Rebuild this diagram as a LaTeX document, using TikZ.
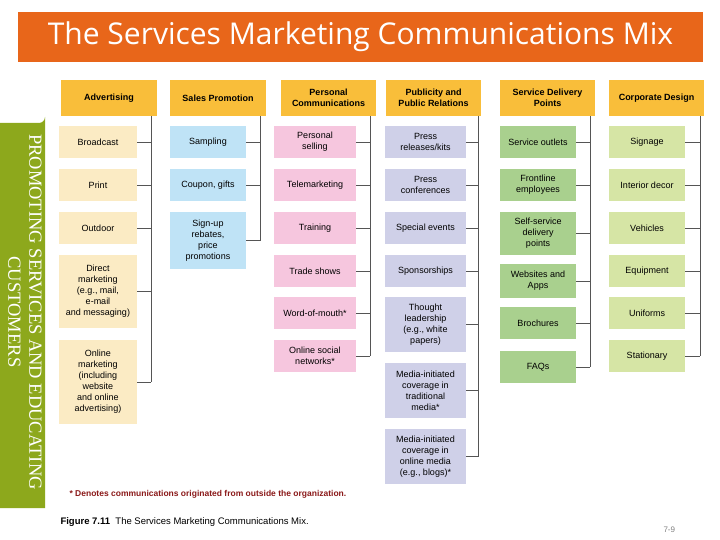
\documentclass[tikz,border=0pt]{standalone}
\usepackage{fontspec}
\setmainfont{Liberation Sans}
\newfontfamily\titlefont{Open Sans}
\newfontfamily\sidefont{Liberation Serif}
\definecolor{titleor}{HTML}{E8661A}
\definecolor{barg}{HTML}{8DA81C}
\definecolor{hdr}{HTML}{F9BE3A}
\definecolor{cA}{HTML}{FBEBC4}
\definecolor{cB}{HTML}{BFE3F6}
\definecolor{cC}{HTML}{F6C6DE}
\definecolor{cD}{HTML}{CFD0E8}
\definecolor{cE}{HTML}{A9D08E}
\definecolor{cF}{HTML}{D6E5A5}
\definecolor{foot}{HTML}{8B1A1A}
\definecolor{ln}{HTML}{555555}
\newcommand\mkhdr[4]{\node[hbox,minimum width={#3-#2},minimum height=36] (#1) at ({(#2+#3)/2},98) {#4};}
\newcommand\mkbox[7]{\node[cbox,fill=#7,minimum width={#3-#2},minimum height={#5-#4}] (#1) at ({(#2+#3)/2},{(#4+#5)/2}) {#6};}
\begin{document}
\begin{tikzpicture}[x=1pt,y=-1pt,
  hbox/.style={fill=hdr,align=center,font=\fontsize{9}{10.5}\selectfont\bfseries,inner sep=0pt},
  cbox/.style={align=center,font=\fontsize{9}{11}\selectfont,inner sep=0pt},
  conn/.style={draw=ln,line width=0.8pt}]
\useasboundingbox (0,0) rectangle (720,540);
\fill[white] (0,0) rectangle (720,540);
\fill[titleor] (18,12) rectangle (703,62);
\node[font=\titlefont\fontsize{30}{34}\selectfont,text=white] (title) at (360.5,37) {The Services Marketing Communications Mix};
\fill[barg] (0,123) -- (39,123) arc[start angle=90,end angle=0,radius=6] -- (45,508) -- (0,508) -- cycle;
\node[rotate=-90,font=\sidefont\fontsize{18.5}{21}\selectfont,text=white,align=center] (side) at (25,312) {PROMOTING SERVICES AND EDUCATING\\CUSTOMERS};
% headers
\mkhdr{hA}{61}{157}{Advertising}
\mkhdr{hB}{170}{266}{Sales Promotion}
\mkhdr{hC}{281}{376}{Personal\\Communications}
\mkhdr{hD}{386}{481}{Publicity and\\Public Relations}
\mkhdr{hE}{500}{595}{Service Delivery\\Points}
\mkhdr{hF}{609}{704}{Corporate Design}
% column A
\mkbox{a1}{59}{137}{126}{158}{Broadcast}{cA}
\mkbox{a2}{59}{137}{169}{201}{Print}{cA}
\mkbox{a3}{59}{137}{212}{244}{Outdoor}{cA}
\mkbox{a4}{59}{137}{255}{328}{Direct\\marketing\\(e.g., mail,\\e-mail\\and messaging)}{cA}
\mkbox{a5}{59}{137}{340}{424}{Online\\marketing\\(including\\website\\and online\\advertising)}{cA}
% column B
\mkbox{b1}{170}{246}{126}{158}{Sampling}{cB}
\mkbox{b2}{170}{246}{169}{201}{Coupon, gifts}{cB}
\mkbox{b3}{170}{246}{212}{269}{Sign-up\\rebates,\\price\\promotions}{cB}
% column C
\mkbox{c1}{274}{356}{126}{158}{Personal\\selling}{cC}
\mkbox{c2}{274}{356}{169}{201}{Telemarketing}{cC}
\mkbox{c3}{274}{356}{212}{244}{Training}{cC}
\mkbox{c4}{274}{356}{255}{287}{Trade shows}{cC}
\mkbox{c5}{274}{356}{297}{329}{Word-of-mouth*}{cC}
\mkbox{c6}{274}{356}{340}{372}{Online social\\networks*}{cC}
% column D
\mkbox{d1}{385}{466}{126}{158}{Press\\releases/kits}{cD}
\mkbox{d2}{385}{466}{169}{201}{Press\\conferences}{cD}
\mkbox{d3}{385}{466}{212}{244}{Special events}{cD}
\mkbox{d4}{385}{466}{255}{287}{Sponsorships}{cD}
\mkbox{d5}{385}{466}{297}{352}{Thought\\leadership\\(e.g., white\\papers)}{cD}
\mkbox{d6}{385}{466}{363}{418}{Media-initiated\\coverage in\\traditional\\media*}{cD}
\mkbox{d7}{385}{466}{429}{484}{Media-initiated\\coverage in\\online media\\(e.g., blogs)*}{cD}
% column E
\mkbox{e1}{500}{576}{126}{158}{Service outlets}{cE}
\mkbox{e2}{500}{576}{169}{201}{Frontline\\employees}{cE}
\mkbox{e3}{500}{576}{212}{255}{Self-service\\delivery\\points}{cE}
\mkbox{e4}{500}{576}{264}{298}{Websites and\\Apps}{cE}
\mkbox{e5}{500}{576}{307}{339}{Brochures}{cE}
\mkbox{e6}{500}{576}{351}{383}{FAQs}{cE}
% column F
\mkbox{f1}{609}{685}{126}{158}{Signage}{cF}
\mkbox{f2}{609}{685}{169}{201}{Interior decor}{cF}
\mkbox{f3}{609}{685}{212}{244}{Vehicles}{cF}
\mkbox{f4}{609}{685}{255}{287}{Equipment}{cF}
\mkbox{f5}{609}{685}{297}{329}{Uniforms}{cF}
\mkbox{f6}{609}{685}{340}{372}{Stationary}{cF}
% spines
\coordinate (sA) at (151,0); \coordinate (sB) at (260,0); \coordinate (sC) at (370,0);
\coordinate (sD) at (478,0); \coordinate (sE) at (590,0); \coordinate (sF) at (700,0);
\foreach \c/\last/\list in {A/a5/{a1,a2,a3,a4,a5},B/b3/{b1,b2,b3},C/c6/{c1,c2,c3,c4,c5,c6},D/d7/{d1,d2,d3,d4,d5,d6,d7},E/e6/{e1,e2,e3,e4,e5,e6},F/f6/{f1,f2,f3,f4,f5,f6}}{
  \draw[conn] (h\c.south -| s\c) -- (\last.east -| s\c);
  \foreach \b in \list {\draw[conn] (\b.east) -- (\b.east -| s\c);}
}
\node[anchor=west,text=foot,font=\fontsize{8.5}{10}\selectfont\bfseries] (fn) at (66,494) {* Denotes communications originated from outside the organization.};
\node[anchor=west,font=\fontsize{9.5}{11}\selectfont] (cap) at (57,522) {\textbf{Figure 7.11}\ \ The Services Marketing Communications Mix.};
\node[anchor=west,text=gray,font=\fontsize{8}{10}\selectfont] (pg) at (660,530) {7-9};
\end{tikzpicture}
\end{document}
